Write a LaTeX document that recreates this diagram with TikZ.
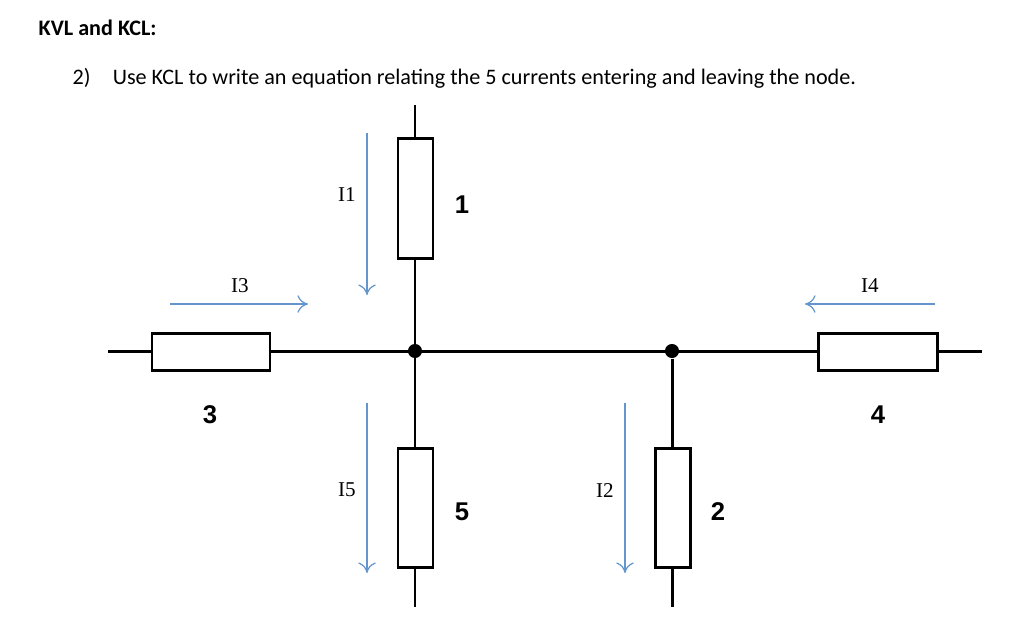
\documentclass[tikz,border=0pt]{standalone}
\usepackage{fontspec}
\setmainfont{Carlito}
\newfontfamily\lbl{Liberation Sans}
\newfontfamily\ser{Liberation Serif}
\usetikzlibrary{arrows.meta}
\begin{document}
\begin{tikzpicture}[x=0.01cm,y=-0.01cm,
  wire/.style={line width=0.85pt},
  res/.style={line width=0.85pt,fill=white},
  cur/.style={draw={rgb,255:red,100;green,150;blue,205},line width=0.35pt,-{To[length=3pt,width=5pt]}},
  num/.style={font=\lbl\bfseries\fontsize{7.3}{8}\selectfont},
  ilab/.style={font=\ser\fontsize{6}{7}\selectfont},
  dot/.style={circle,fill=black,inner sep=0pt,minimum size=4pt}]
\useasboundingbox (0,0) rectangle (1024,629);
\node[anchor=west,inner sep=0pt,font=\bfseries\fontsize{6.3}{7}\selectfont] (title) at (38,28) {KVL and KCL:};
\node[anchor=west,inner sep=0pt,font=\fontsize{6.3}{7}\selectfont] (q) at (72,78) {2)\quad Use KCL to write an equation relating the 5 currents entering and leaving the node.};
\coordinate (L) at (108,351); \coordinate (R) at (982,351);
\coordinate (T) at (415,105); \coordinate (B) at (415,607);
\coordinate (B2) at (672,607);
\node[dot] (n1) at (415,351) {};
\node[dot] (n2) at (672,351) {};
\draw[wire] (L) -- (R);
\draw[wire] (T) -- (B);
\draw[wire] (n2) -- (B2);
\draw[res] (152,333) rectangle (270,370);
\draw[res] (818,333) rectangle (937,370);
\draw[res] (398,138) rectangle (433,258);
\draw[res] (398,448) rectangle (433,567);
\draw[res] (655,448) rectangle (690,567);
\node[num] (r1) at (462,205) {1};
\node[num] (r3) at (210,415) {3};
\node[num] (r4) at (878,415) {4};
\node[num] (r5) at (462,512) {5};
\node[num] (r2) at (718,512) {2};
\coordinate (a1s) at (367,133); \coordinate (a1e) at (367,295);
\coordinate (a3s) at (170,304); \coordinate (a3e) at (308,304);
\coordinate (a4s) at (935,304); \coordinate (a4e) at (805,304);
\coordinate (a5s) at (367,403); \coordinate (a5e) at (367,573);
\coordinate (a2s) at (625,403); \coordinate (a2e) at (625,573);
\draw[cur] (a1s) -- (a1e);
\draw[cur] (a3s) -- (a3e);
\draw[cur] (a4s) -- (a4e);
\draw[cur] (a5s) -- (a5e);
\draw[cur] (a2s) -- (a2e);
\node[ilab] (i1) at (347,195) {I1};
\node[ilab] (i3) at (240,286) {I3};
\node[ilab] (i4) at (870,286) {I4};
\node[ilab] (i5) at (347,490) {I5};
\node[ilab] (i2) at (605,490) {I2};
\end{tikzpicture}
\end{document}
